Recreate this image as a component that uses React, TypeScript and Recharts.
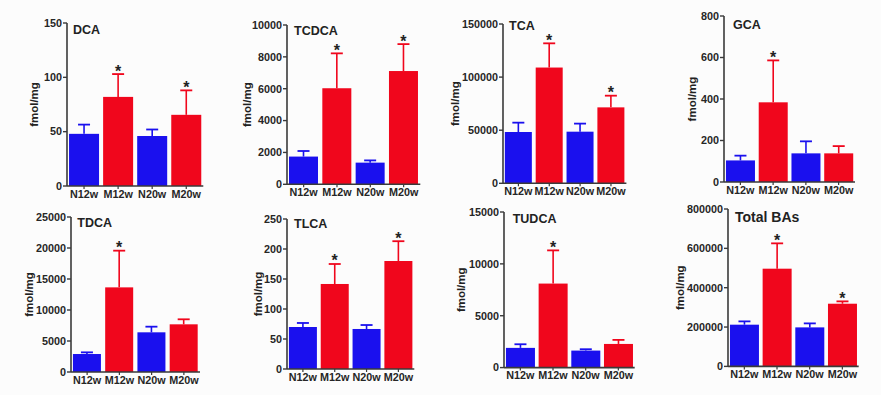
import React from 'react';
import { BarChart, Bar, XAxis, YAxis } from 'recharts';

// ---------- data ----------
const categories = ['N12w', 'M12w', 'N20w', 'M20w'];

const dcaMean = [48, 82, 46, 65.5];
const dcaSd = [8.5, 21, 6, 22.5];
const dcaSig = [false, true, false, true];
const dcaTicks = [0, 50, 100, 150];

const tcdcaMean = [1740, 6030, 1360, 7110];
const tcdcaSd = [350, 2190, 140, 1690];
const tcdcaSig = [false, true, false, true];
const tcdcaTicks = [0, 2000, 4000, 6000, 8000, 10000];

const tcaMean = [48300, 109000, 48600, 71500];
const tcaSd = [8800, 22800, 7600, 11000];
const tcaSig = [false, true, false, true];
const tcaTicks = [0, 50000, 100000, 150000];

const gcaMean = [104, 384, 138, 138];
const gcaSd = [23, 202, 58, 35];
const gcaSig = [false, true, false, false];
const gcaTicks = [0, 200, 400, 600, 800];

const tdcaMean = [2900, 13650, 6400, 7690];
const tdcaSd = [270, 5920, 910, 810];
const tdcaSig = [false, true, false, false];
const tdcaTicks = [0, 5000, 10000, 15000, 20000, 25000];

const tlcaMean = [70, 141.7, 66.7, 180];
const tlcaSd = [6.7, 33.3, 6.6, 33];
const tlcaSig = [false, true, false, true];
const tlcaTicks = [0, 50, 100, 150, 200, 250];

const tudcaMean = [1900, 8100, 1640, 2280];
const tudcaSd = [350, 3200, 130, 390];
const tudcaSig = [false, true, false, false];
const tudcaTicks = [0, 5000, 10000, 15000];

const totalMean = [212000, 496600, 198300, 318600];
const totalSd = [16800, 128800, 20300, 11900];
const totalSig = [false, true, false, true];
const totalTicks = [0, 200000, 400000, 600000, 800000];

const titles = ['DCA', 'TCDCA', 'TCA', 'GCA', 'TDCA', 'TLCA', 'TUDCA', 'Total BAs'];
const yLabel = 'fmol/mg';

// ---------- layout / style ----------
const BLUE = '#1a10ee';
const RED = '#f0061c';
const AXIS = '#3a3a3a';
const FONT = 'Arial, "Liberation Sans", Helvetica, sans-serif';

type Layout = {
  axisX: number; top: number; bottom: number; right: number;
  labelDist: number; titleX: number; titleCap: number; titleSize: number;
};

const layouts: Layout[] = [
  { axisX: 66.7, top: 22.7, bottom: 185.7, right: 203, labelDist: 33, titleX: 73, titleCap: 26, titleSize: 12.5 },
  { axisX: 286.7, top: 25, bottom: 184.3, right: 420, labelDist: 40, titleX: 294, titleCap: 26.7, titleSize: 12.5 },
  { axisX: 503.3, top: 24, bottom: 183.3, right: 626.7, labelDist: 48, titleX: 509, titleCap: 21.7, titleSize: 12.5 },
  { axisX: 724, top: 15.7, bottom: 181.7, right: 855, labelDist: 32, titleX: 733, titleCap: 20.3, titleSize: 12.5 },
  { axisX: 71, top: 217.3, bottom: 372.3, right: 200, labelDist: 42, titleX: 77.3, titleCap: 218.3, titleSize: 12.5 },
  { axisX: 286.7, top: 219, bottom: 369, right: 414, labelDist: 29, titleX: 294, titleCap: 220, titleSize: 12.5 },
  { axisX: 504.3, top: 211.7, bottom: 367.3, right: 635, labelDist: 43, titleX: 512.7, titleCap: 215, titleSize: 12.5 },
  { axisX: 728.3, top: 209.3, bottom: 366.7, right: 859, labelDist: 48, titleX: 735, titleCap: 211.7, titleSize: 14 },
];

const panelData = [
  { mean: dcaMean, sd: dcaSd, sig: dcaSig, ticks: dcaTicks },
  { mean: tcdcaMean, sd: tcdcaSd, sig: tcdcaSig, ticks: tcdcaTicks },
  { mean: tcaMean, sd: tcaSd, sig: tcaSig, ticks: tcaTicks },
  { mean: gcaMean, sd: gcaSd, sig: gcaSig, ticks: gcaTicks },
  { mean: tdcaMean, sd: tdcaSd, sig: tdcaSig, ticks: tdcaTicks },
  { mean: tlcaMean, sd: tlcaSd, sig: tlcaSig, ticks: tlcaTicks },
  { mean: tudcaMean, sd: tudcaSd, sig: tudcaSig, ticks: tudcaTicks },
  { mean: totalMean, sd: totalSd, sig: totalSig, ticks: totalTicks },
];

const BarWithError = (props: any) => {
  const { x, y, width, height, payload } = props;
  if (height == null || payload == null) return null;
  const color = String(payload.cat).startsWith('N') ? BLUE : RED;
  const ppu = payload.value ? height / payload.value : 0;
  const errY = y - payload.sd * ppu;
  const cx = x + width / 2;
  return (
    <g>
      <rect x={x} y={y} width={width} height={height} fill={color} />
      <line x1={cx} x2={cx} y1={y} y2={errY} stroke={color} strokeWidth={1.6} />
      <line x1={cx - 6} x2={cx + 6} y1={errY} y2={errY} stroke={color} strokeWidth={1.8} />
      {payload.sig ? (
        <text x={cx} y={errY + 2.5} textAnchor="middle" fontSize={16} fontWeight="bold" fill="#222" fontFamily={FONT}>*</text>
      ) : null}
    </g>
  );
};

const Panel = ({ idx }: { idx: number }) => {
  const L = layouts[idx];
  const P = panelData[idx];
  const Yw = 60;
  const mTop = 10;
  const mRight = 4;
  const xH = 24;
  const W = L.right - L.axisX + Yw + mRight;
  const H = L.bottom - L.top + mTop + xH;
  const left = L.axisX - Yw;
  const top = L.top - mTop;
  const data = categories.map((c, i) => ({ cat: c, value: P.mean[i], sd: P.sd[i], sig: P.sig[i] }));
  const maxTick = P.ticks[P.ticks.length - 1];
  const tickStyle = { fontSize: 10.8, fontWeight: 'bold', fill: '#262626', fontFamily: FONT };
  return (
    <>
      <div style={{ position: 'absolute', left, top, width: W, height: H }}>
        <BarChart width={W} height={H} data={data} margin={{ top: mTop, right: mRight, left: 0, bottom: 0 }} barCategoryGap="6%">
          <XAxis
            dataKey="cat"
            height={xH}
            interval={0}
            tickSize={3}
            tickMargin={1}
            axisLine={{ stroke: AXIS, strokeWidth: 1.6 }}
            tickLine={{ stroke: AXIS, strokeWidth: 1.2 }}
            tick={tickStyle}
          />
          <YAxis
            width={Yw}
            type="number"
            domain={[0, maxTick]}
            ticks={P.ticks}
            interval={0}
            tickSize={4}
            tickMargin={1}
            axisLine={{ stroke: AXIS, strokeWidth: 1.6 }}
            tickLine={{ stroke: AXIS, strokeWidth: 1.4 }}
            tick={tickStyle}
            label={{
              content: (lp: any) => {
                const vb = lp.viewBox || {};
                const tx = vb.x + vb.width - L.labelDist + 4;
                const ty = vb.y + vb.height / 2;
                return (
                  <text
                    x={tx}
                    y={ty}
                    transform={`rotate(-90 ${tx} ${ty})`}
                    textAnchor="middle"
                    fontSize={11.5}
                    fontWeight="bold"
                    fill="#222"
                    fontFamily={FONT}
                  >
                    {yLabel}
                  </text>
                );
              },
            }}
          />
          <Bar dataKey="value" isAnimationActive={false} shape={BarWithError} />
        </BarChart>
      </div>
      <div
        style={{
          position: 'absolute',
          left: L.titleX,
          top: L.titleCap - 0.13 * L.titleSize,
          fontFamily: FONT,
          fontWeight: 'bold',
          fontSize: L.titleSize,
          lineHeight: 1,
          color: '#222',
          whiteSpace: 'nowrap',
        }}
      >
        {titles[idx]}
      </div>
    </>
  );
};

export default function App() {
  return (
    <div style={{ position: 'fixed', left: 0, top: 0, width: 881, height: 395, background: '#fcfcfc', overflow: 'hidden' }}>
      {layouts.map((_, i) => (
        <Panel key={i} idx={i} />
      ))}
    </div>
  );
}
